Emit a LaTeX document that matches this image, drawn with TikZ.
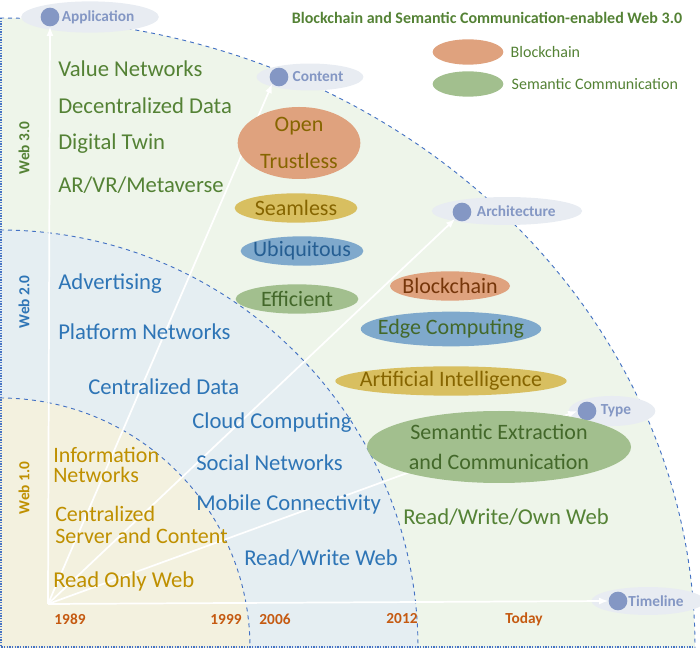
\documentclass[tikz,border=0pt]{standalone}
\usepackage{fontspec}
\setmainfont{Carlito}
\usetikzlibrary{arrows.meta,shapes.geometric}
\definecolor{gfill}{HTML}{EEF5EA}
\definecolor{bfill}{HTML}{E5EEF2}
\definecolor{yfill}{HTML}{F3F1DF}
\definecolor{dblue}{HTML}{4472C4}
\definecolor{tgreen}{HTML}{548235}
\definecolor{tblue}{HTML}{2E75B6}
\definecolor{tyel}{HTML}{BF9000}
\definecolor{torange}{HTML}{C55A11}
\definecolor{eorange}{HTML}{DFA27E}
\definecolor{egreen}{HTML}{A2BF8E}
\definecolor{eyel}{HTML}{D8BF60}
\definecolor{eblue}{HTML}{7FA9CC}
\definecolor{axlab}{HTML}{E8ECF2}
\definecolor{axdot}{HTML}{8497C4}
\definecolor{axtxt}{HTML}{8497C4}
\tikzset{
 region/.style={draw=dblue,dashed,line width=0.7pt},
 axis/.style={white,line width=1.3pt,-{Latex[length=7pt]}},
 big/.style={font=\fontsize{17}{18}\selectfont,anchor=west,inner sep=0},
 era/.style={font=\fontsize{11.5}{12}\selectfont\bfseries,rotate=90},
 yr/.style={font=\fontsize{11.5}{12}\selectfont\bfseries,text=torange},
 axl/.style={fill=axlab,ellipse,minimum width=75pt,minimum height=20pt,font=\fontsize{11.5}{12}\selectfont\bfseries,text=axtxt},
 dot/.style={circle,fill=axdot,minimum size=14pt,inner sep=0},
 oval/.style={ellipse,inner sep=-7pt,font=\fontsize{16.5}{18}\selectfont},
}
\begin{document}
\begin{tikzpicture}[x=0.75pt,y=-0.75pt]
\useasboundingbox (0,0) rectangle (700,648);
\fill[gfill] (0,648) -- (0,18) arc[start angle=-90,end angle=0,x radius=695,y radius=630] -- cycle;
\fill[bfill] (0,648) -- (0,230) arc[start angle=-90,end angle=0,radius=418] -- cycle;
\fill[yfill] (0,648) -- (0,398) arc[start angle=-90,end angle=0,radius=250] -- cycle;
\draw[region] (0,18) arc[start angle=-90,end angle=0,x radius=695,y radius=630];
\draw[region] (0,230) arc[start angle=-90,end angle=0,radius=418];
\draw[region] (0,398) arc[start angle=-90,end angle=0,radius=250];
\draw[dblue,densely dotted,line width=1pt] (1,18) -- (1,647) -- (693,647);
% axes
\coordinate (o) at (48,604);
\node[axl] (lapp) at (90,17) {\hspace*{12pt}Application};
\node[axl] (lcon) at (310,77) {\hspace*{12pt}Content};
\node[axl] (larc) at (507,211) {\hspace*{14pt}Architecture};
\node[axl,minimum width=65pt] (ltyp) at (612,411) {\hspace*{6pt}Type};
\node[axl,minimum width=65pt] (ltim) at (648,601) {\hspace*{12pt}Timeline};
\node[dot] (dapp) at (50,17) {};
\node[dot] (dcon) at (279,77) {};
\node[dot] (darc) at (462,212) {};
\node[dot] (dtyp) at (587,411) {};
\node[dot] (dtim) at (618,601) {};
\draw[axis] (o) -- (dapp.south);
\draw[axis] (o) -- (dcon.south west);
\draw[axis] (o) -- (darc.south west);
\draw[axis] (o) -- (dtyp.west);
\draw[axis] (o) -- (dtim.west);
% era labels
\node[era,text=tgreen] (w3) at (24,148) {Web 3.0};
\node[era,text=tblue] (w2) at (24,302) {Web 2.0};
\node[era,text=tyel] (w1) at (24,488) {Web 1.0};
% years
\node[yr] (y1) at (70,619) {1989};
\node[yr] (y2) at (226,619) {1999};
\node[yr] (y3) at (275,619) {2006};
\node[yr] (y4) at (402,619) {2012};
\node[yr] (y5) at (524,619) {Today};
% web 3 texts
\node[big,text=tgreen] (t1) at (58,69) {Value Networks};
\node[big,text=tgreen] (t2) at (58,106) {Decentralized Data};
\node[big,text=tgreen] (t3) at (58,144) {Digital Twin};
\node[big,text=tgreen] (t4) at (58,185) {AR/VR/Metaverse};
\node[big,text=tgreen] (t5) at (403,517) {Read/Write/Own Web};
% web 2 texts
\node[big,text=tblue] (b1) at (58,284) {Advertising};
\node[big,text=tblue] (b2) at (58,332) {Platform Networks};
\node[big,text=tblue] (b3) at (88,387) {Centralized Data};
\node[big,text=tblue] (b4) at (192,423) {Cloud Computing};
\node[big,text=tblue] (b5) at (196,463) {Social Networks};
\node[big,text=tblue] (b6) at (196,504) {Mobile Connectivity};
\node[big,text=tblue] (b7) at (244,558) {Read/Write Web};
% web 1 texts
\node[big,text=tyel,align=left,font=\fontsize{16.5}{14.5}\selectfont] (a1) at (53,465) {Information\\Networks};
\node[big,text=tyel,align=left,font=\fontsize{16.5}{16}\selectfont] (a2) at (55,525) {Centralized\\Server and Content};
\node[big,text=tyel] (a3) at (53,581) {Read Only Web};
% ovals
\node[oval,fill=eorange,minimum width=92pt,minimum height=54pt,text=tyel!70!black,align=center,font=\fontsize{16.5}{28}\selectfont] (o1) at (299,143) {Open\\Trustless};
\node[oval,fill=eyel,minimum width=92pt,minimum height=22pt,text=tyel!70!black] (o2) at (296,208) {Seamless};
\node[oval,fill=eblue,minimum width=92pt,minimum height=22pt,text=tblue!80!black] (o3) at (302,251) {Ubiquitous};
\node[oval,fill=egreen,minimum width=92pt,minimum height=22pt,text=tgreen!80!black] (o4) at (297,299) {Efficient};
\node[oval,fill=eorange,minimum width=90pt,minimum height=22pt,text=torange!60!black] (o5) at (450,286) {Blockchain};
\node[oval,fill=eblue,minimum width=134pt,minimum height=26pt,text=tgreen!80!black] (o6) at (451,329) {Edge Computing};
\node[oval,fill=eyel,minimum width=158pt,minimum height=22pt,text=tyel!70!black] (o7) at (451,381) {Artificial Intelligence};
\node[oval,fill=egreen,minimum width=198pt,minimum height=54pt,text=tgreen!80!black,align=center,font=\fontsize{16.5}{22}\selectfont] (o8) at (499,447) {Semantic Extraction\\and Communication};
% legend
\node[font=\fontsize{12}{13}\selectfont\bfseries,text=tgreen] (title) at (487,18) {Blockchain and Semantic Communication-enabled Web 3.0};
\node[oval,fill=eorange,minimum width=53pt,minimum height=19pt] (lg1) at (468,52) {};
\node[oval,fill=egreen,minimum width=53pt,minimum height=19pt] (lg2) at (468,84) {};
\node[anchor=west,font=\fontsize{12}{13}\selectfont,text=tgreen] (lt1) at (506,52) {Blockchain};
\node[anchor=west,font=\fontsize{12}{13}\selectfont,text=tgreen] (lt2) at (507,84) {Semantic Communication};
\end{tikzpicture}
\end{document}
